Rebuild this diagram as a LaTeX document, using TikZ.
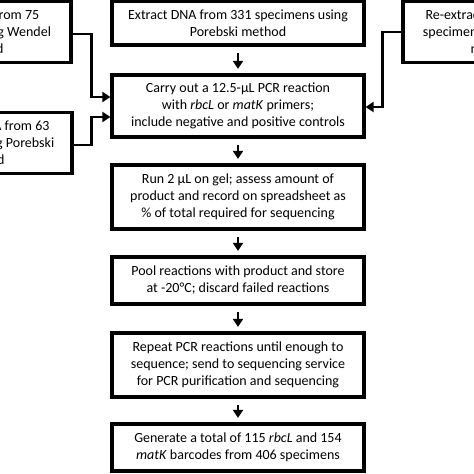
\documentclass[tikz,border=0pt]{standalone}
\usepackage{fontspec}
\setmainfont{Carlito}
\usetikzlibrary{arrows.meta,positioning,calc}

\tikzset{
  stepbox/.style={draw, line width=3.2pt, align=center, inner sep=0pt,
    font=\fontsize{14}{17}\selectfont, minimum width=252pt},
  sidebox/.style={stepbox, minimum width=180pt, minimum height=61pt},
  conn/.style={line width=2.5pt, -{Triangle[width=10pt,length=8pt]}}
}

\begin{document}
\begin{tikzpicture}[x=1pt,y=-1pt]
\useasboundingbox (0,0) rectangle (474,474);
\clip (0,0) rectangle (474,474);
\fill[white] (0,0) rectangle (474,474);

% main column
\node[stepbox, minimum height=44pt] (extract) at (238,23) {Extract DNA from 331 specimens using\\Porebski method};
\node[stepbox, minimum height=62pt] (pcr) at (238,106) {Carry out a 12.5-µL PCR reaction\\with \textit{rbcL} or \textit{matK} primers;\\include negative and positive controls};
\node[stepbox, minimum height=64pt] (gel) at (238,197) {Run 2 µL on gel; assess amount of\\product and record on spreadsheet as\\\% of total required for sequencing};
\node[stepbox, minimum height=47pt] (pool) at (238,280.5) {Pool reactions with product and store\\at -20°C; discard failed reactions};
\node[stepbox, minimum height=64pt] (repeat) at (238,365) {Repeat PCR reactions until enough to\\sequence; send to sequencing service\\for PCR purification and sequencing};
\node[stepbox, minimum height=47pt] (result) at (238,447.5) {Generate a total of 115 \textit{rbcL} and 154\\\textit{matK} barcodes from 406 specimens};

% side boxes (cut off by the page edge)
\node[sidebox] (wendel) at (-19,32) {Extract DNA from 75\\specimens using Wendel\\method};
\node[sidebox] (reporeb) at (-18,143) {Re-extract DNA from 63\\specimens using Porebski\\method};
\node[sidebox] (rewendel) at (493,32) {Re-extract DNA from 12\\specimens using Wendel\\method};

% arrows down the column
\foreach \a/\b in {extract/pcr, pcr/gel, gel/pool, pool/repeat, repeat/result}{
  \draw[conn] ([yshift=-6pt]\a.south) -- ([yshift=4.5pt]\b.north);
}

% arrows from the side boxes
\draw[conn] ([yshift=-2pt]wendel.east) -| ++(19,0) |- ([yshift=9pt]pcr.west);
\draw[conn] ([yshift=-2pt]reporeb.east) -| ++(18,0) |- ([yshift=-11pt]pcr.west);
\draw[conn] (rewendel.west) -| ++(-19,0) |- ([yshift=-1pt]pcr.east);
\end{tikzpicture}
\end{document}
